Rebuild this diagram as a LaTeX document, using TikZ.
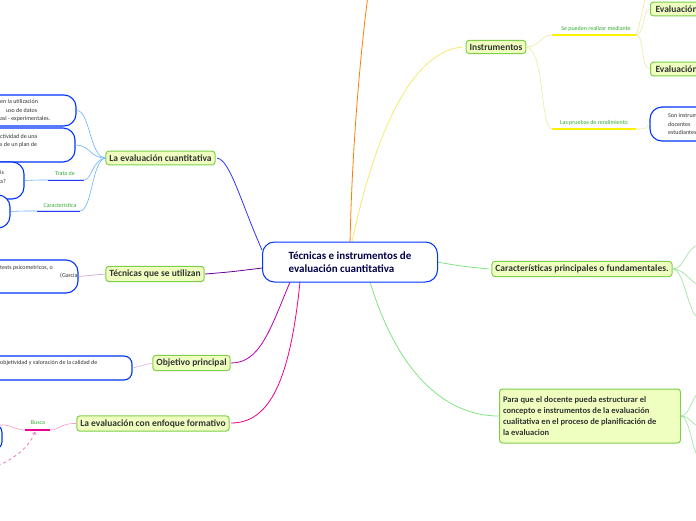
\documentclass[tikz,border=0pt]{standalone}
\usepackage{fontspec}
\setmainfont{Carlito}
\begin{document}
\begin{tikzpicture}[x=1pt,y=-1pt,
 topic/.style={draw=green!45!olive!70,fill=green!25!yellow!25,rounded corners=3,line width=1pt,font=\fontsize{9.5}{11}\selectfont\bfseries,text=black!80,inner sep=3.5pt},
 bub/.style={draw=blue!80!cyan,line width=1.1pt,rounded corners=12,fill=white},
 bt/.style={font=\fontsize{6}{8.5}\selectfont,align=left,text=black!80,anchor=west,inner sep=0pt},
 lab/.style={font=\fontsize{6}{7}\selectfont,text=green!60!black!80},
 ed/.style={line width=0.8pt}]
\useasboundingbox (0,0) rectangle (696,520);
\clip (0,0) rectangle (696,520);
% connectors from center
\draw[ed,orange] (350,245) .. controls (352,140) and (362,40) .. (368,-5);
\draw[ed,yellow!90!black!60] (352,242) .. controls (380,110) and (420,50) .. (463,47);
\draw[ed,green!80!black!50] (437,262) .. controls (460,266) .. (489,269);
\draw[ed,green!80!black!50] (370,282) .. controls (400,380) and (450,416) .. (499,416);
\draw[ed,blue!80] (262,250) .. controls (240,200) and (230,160) .. (217,158);
\draw[ed,violet!80!blue] (262,268) .. controls (230,272) .. (205,274);
\draw[ed,violet!60!magenta] (290,282) .. controls (270,330) and (260,363) .. (231,363);
\draw[ed,magenta] (300,282) .. controls (290,380) and (270,423) .. (231,423);
% center node
\node[draw=blue!80!cyan,line width=1pt,rounded corners=12,fill=white,minimum width=175pt,minimum height=40pt,align=left,font=\fontsize{11}{13}\selectfont\bfseries,text=blue!30!black] (center) at (350,262) {Técnicas e instrumentos de\\evaluación cuantitativa};
% topics
\node[topic] (lec) at (160.5,158) {La evaluación cuantitativa};
\node[topic] (tec) at (155,274) {Técnicas que se utilizan};
\node[topic] (obj) at (191.5,363) {Objetivo principal};
\node[topic] (form) at (153,423.5) {La evaluación con enfoque formativo};
\node[topic] (ins) at (496,47) {Instrumentos};
\node[topic,anchor=west,minimum width=80pt,align=flush left,text width=70pt] (ev1) at (650,9) {Evaluación};
\node[topic,anchor=west,minimum width=80pt,align=flush left,text width=70pt] (ev2) at (650,69) {Evaluación};
\node[topic] (car) at (582,269) {Características principales o fundamentales.};
\node[topic,align=flush left,font=\fontsize{8.5}{11}\selectfont\bfseries,text width=174pt,minimum height=54pt] (para) at (590,416) {Para que el docente pueda estructurar el\\concepto e instrumentos de la evaluación\\cualitativa en el proceso de planificación de\\la evaluacion};
% left bubbles
\node[bub,minimum width=130pt,minimum height=31pt] (b1) at (11,110.5) {};
\node[bt] at (0,110.5) {en la utilización\\\hspace*{6pt}uso de datos\\asi - experimentales.};
\node[bub,minimum width=130pt,minimum height=34pt] (b2) at (10,145) {};
\node[bt] at (0,141) {ctividad de una\\s de un plan de};
\node[bub,minimum width=80pt,minimum height=37pt] (b3) at (-16,180.5) {};
\node[bt] at (0,177) {is\\a?};
\node[bub,minimum width=60pt,minimum height=33pt] (b4) at (-20,211.5) {};
\node[bub,minimum width=150pt,minimum height=33pt] (b5) at (3,276.5) {};
\node[bt] at (0,272) {tests psicometricos, o\\\hspace*{60pt}(García};
\node[bub,minimum width=190pt,minimum height=24pt,rounded corners=8] (b6) at (37,368) {};
\node[bt] at (0,363) {objetividad y valoración de la calidad de};
\node[bub,minimum width=80pt,minimum height=34pt] (b7) at (690,124) {};
\node[bt] at (668,124) {Son instrumentos\\docentes\\estudiantes};
\node[bub,minimum width=40pt,minimum height=25pt,rounded corners=8] (b8) at (-18,437) {};
% branch edges left
\draw[blue!50!cyan!60,line width=0.6pt] (lec.west) .. controls (90,158) and (90,110) .. (b1.east);
\draw[blue!50!cyan!60,line width=0.6pt] (lec.west) .. controls (90,158) and (90,145) .. (b2.east);
\draw[blue!50!cyan!60,line width=0.6pt] (lec.west) .. controls (92,160) and (92,180) .. (84,180) -- (48,180) .. controls (38,180) .. (b3.east);
\draw[blue!80,line width=1pt] (48,180) -- (84,180);
\node[lab] (t1) at (65,173) {Trata de};
\draw[blue!50!cyan!60,line width=0.6pt] (lec.west) .. controls (92,160) and (92,211) .. (80,211) -- (37,211) .. controls (22,211) .. (b4.east);
\draw[blue!80,line width=1pt] (37,211) -- (80,211);
\node[lab] (t2) at (60,205) {Característica};
\draw[violet!40,line width=0.6pt] (tec.west) -- (b5.east);
\draw[violet!30,line width=0.6pt] (obj.west) -- (b6.east);
\draw[magenta!40,line width=0.6pt] (form.west) .. controls (60,423) and (60,430) .. (50,430) -- (25,430) .. controls (15,430) and (10,424) .. (0,425);
\draw[magenta,line width=1.2pt] (25,430) -- (50,430);
\node[lab] (t3) at (38,423) {Busca};
\draw[magenta!60,dashed,line width=0.7pt,->] (-2,466) .. controls (20,455) and (30,445) .. (35,432);
% right edges
\draw[yellow!80!black!40,line width=0.6pt] (ins.east) .. controls (540,47) and (540,35) .. (552,35) -- (636,35) .. controls (645,35) and (642,10) .. (ev1.west);
\draw[yellow!80!black!40,line width=0.6pt] (636,35) .. controls (645,35) and (640,69) .. (ev2.west);
\draw[yellow!80!black!40,line width=0.6pt] (636,35) .. controls (640,25) and (642,10) .. (646,-5);
\draw[yellow,line width=1.2pt] (552,35) -- (636,35);
\node[lab] (s1) at (596,29) {Se pueden realizar mediante};
\draw[yellow!80!black!40,line width=0.6pt] (ins.east) .. controls (545,50) and (540,129) .. (552,129) -- (636,129) .. controls (645,129) .. (b7.west);
\draw[yellow,line width=1.2pt] (552,129) -- (636,129);
\node[lab] (s2) at (594,123) {Las pruebas de rendimiento};
\draw[green!70!black!40,line width=0.6pt] (car.east) .. controls (685,269) and (685,248) .. (700,244);
\draw[green!70!black!40,line width=0.6pt] (car.east) .. controls (685,269) and (690,283) .. (700,285);
\draw[green!70!black!40,line width=0.6pt] (car.east) .. controls (685,269) and (688,318) .. (700,318);
\draw[green!70!black!40,line width=0.6pt] (para.east) .. controls (690,416) and (692,395) .. (700,392);
\draw[green!70!black!40,line width=0.6pt] (para.east) .. controls (690,416) and (692,425) .. (700,427);
\draw[green!70!black!40,line width=0.6pt] (para.east) .. controls (690,416) and (692,455) .. (700,458);
\end{tikzpicture}
\end{document}
